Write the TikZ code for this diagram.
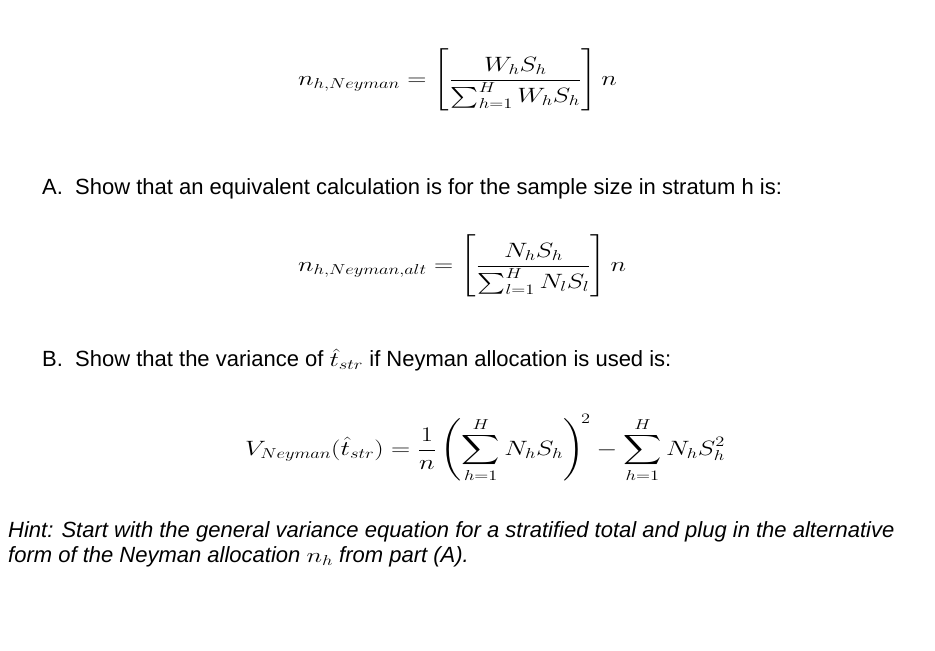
\documentclass[tikz,border=0pt]{standalone}
\usepackage{amsmath}
\usepackage{graphicx}
\usepackage{fontspec}
\newfontfamily\arial{Liberation Sans}
\newcommand{\wideeq}[1]{\scalebox{1.28}[1]{$#1$}}
\begin{document}
\begin{tikzpicture}[x=1pt,y=-1pt,
  txt/.style={anchor=west,inner sep=0pt,font=\arial\fontsize{22}{25}\selectfont},
  eq/.style={anchor=west,inner sep=0pt,font=\fontsize{20}{23}\selectfont}]
\useasboundingbox (0,0) rectangle (935,651);
\node[eq] (e1) at (298,80) {\wideeq{n_{h,Neyman}=\left[\dfrac{W_hS_h}{\sum_{h=1}^{H}W_hS_h}\right]n}};
\node[txt] (a) at (42,189) {A.\ \ Show that an equivalent calculation is for the sample size in stratum h is:};
\node[eq] (e2) at (298,266) {\wideeq{n_{h,Neyman,alt}=\left[\dfrac{N_hS_h}{\sum_{l=1}^{H}N_lS_l}\right]n}};
\node[txt] (b) at (42,360) {B.\ \ Show that the variance of \wideeq{\hat{t}_{str}} if Neyman allocation is used is:};
\node[eq] (e3) at (245,448) {\wideeq{V_{Neyman}(\hat{t}_{str})=\dfrac{1}{n}\left(\displaystyle\sum_{h=1}^{H}N_hS_h\right)^{\!2}-\displaystyle\sum_{h=1}^{H}N_hS_h^2}};
\node[txt,font=\arial\itshape\fontsize{22}{25}\selectfont] (h1) at (8,532) {Hint: Start with the general variance equation for a stratified total and plug in the alternative};
\node[txt,font=\arial\itshape\fontsize{22}{25}\selectfont] (h2) at (8,557) {form of the Neyman allocation \wideeq{n_h} from part (A).};
\end{tikzpicture}
\end{document}
